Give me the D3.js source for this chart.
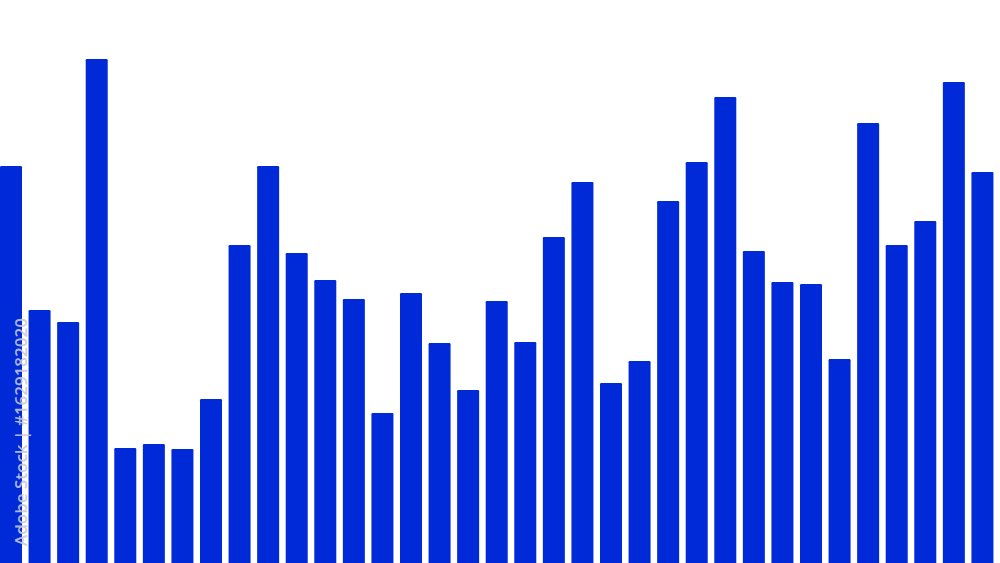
<!DOCTYPE html>
<html>
<head>
<meta charset="utf-8">
<script src="https://cdn.jsdelivr.net/npm/d3@7"></script>
<style>
html,body{margin:0;padding:0;background:#fff;overflow:hidden}
svg{display:block}
</style>
</head>
<body>
<svg id="chart" width="1000" height="563"></svg>
<script>
const categories = d3.range(1, 36).map(i => "B" + i);
const values = [397,253,241,504,115,119,114,164,318,397,310,283,264,150,270,220,173,262,221,326,381,180,202,362,401,466,312,281,279,204,440,318,342,481,391];
const watermark = "Adobe Stock | #1629182020";

const W = 1000, H = 563;
const svg = d3.select("#chart");

const x = d3.scaleBand()
  .domain(categories)
  .range([0, W])
  .paddingInner(0.23)
  .paddingOuter(0.115)
  .align(0);

const y = d3.scaleLinear().domain([0, H]).range([H, 0]);

svg.append("g")
  .selectAll("rect")
  .data(values)
  .join("rect")
  .attr("x", (d, i) => x(categories[i]))
  .attr("y", d => y(d))
  .attr("width", x.bandwidth())
  .attr("height", d => H - y(d) + 4)
  .attr("rx", 1.2)
  .attr("fill", "#002ad8");

svg.append("text")
  .attr("transform", "translate(27,546) rotate(-90)")
  .attr("font-family", "Open Sans, DejaVu Sans, sans-serif")
  .attr("font-size", 17)
  .attr("font-weight", 600)
  .attr("fill", "#c8c8d8")
  .attr("fill-opacity", 0.9)
  .attr("textLength", 228)
  .text(watermark);
</script>
</body>
</html>
